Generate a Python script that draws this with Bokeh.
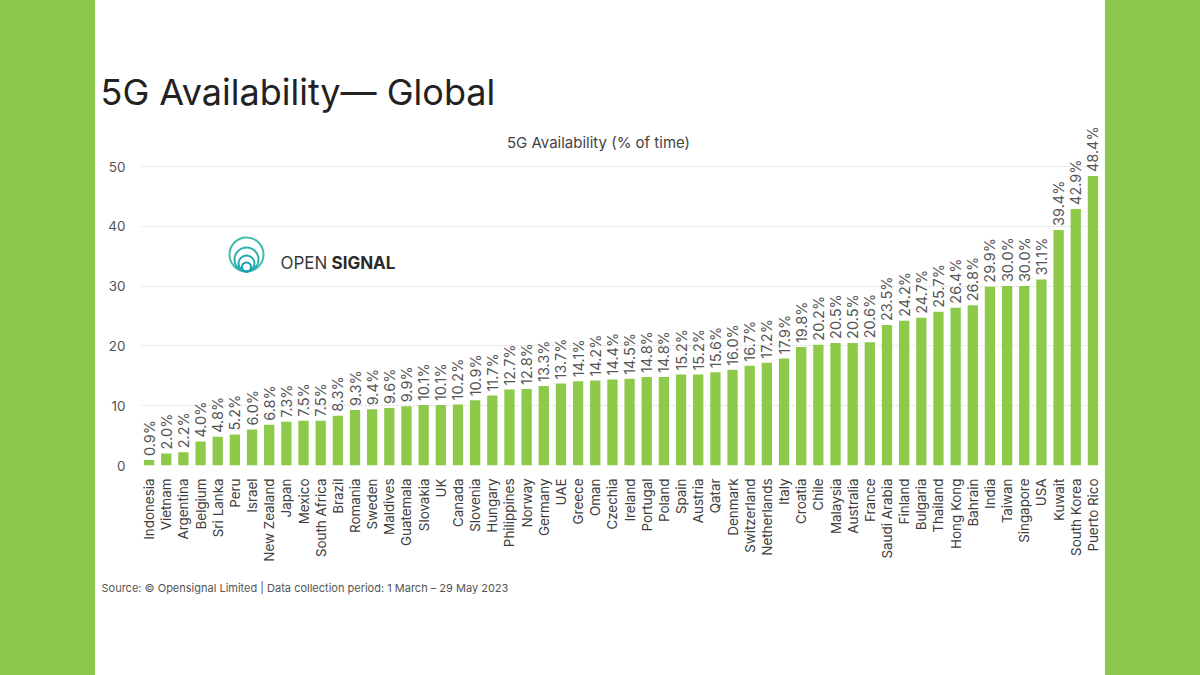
import math

from bokeh.core.properties import value
from bokeh.embed import file_html
from bokeh.layouts import row
from bokeh.models import ColumnDataSource, FixedTicker, Label, Range1d, Spacer, Title
from bokeh.plotting import figure
from bokeh.resources import INLINE

# --- data -------------------------------------------------------------------
countries = [
    "Indonesia", "Vietnam", "Argentina", "Belgium", "Sri Lanka", "Peru", "Israel",
    "New Zealand", "Japan", "Mexico", "South Africa", "Brazil", "Romania", "Sweden",
    "Maldives", "Guatemala", "Slovakia", "UK", "Canada", "Slovenia", "Hungary",
    "Philippines", "Norway", "Germany", "UAE", "Greece", "Oman", "Czechia", "Ireland",
    "Portugal", "Poland", "Spain", "Austria", "Qatar", "Denmark", "Switzerland",
    "Netherlands", "Italy", "Croatia", "Chile", "Malaysia", "Australia", "France",
    "Saudi Arabia", "Finland", "Bulgaria", "Thailand", "Hong Kong", "Bahrain", "India",
    "Taiwan", "Singapore", "USA", "Kuwait", "South Korea", "Puerto Rico",
]
availability = [
    0.9, 2.0, 2.2, 4.0, 4.8, 5.2, 6.0, 6.8, 7.3, 7.5,
    7.5, 8.3, 9.3, 9.4, 9.6, 9.9, 10.1, 10.1, 10.2, 10.9,
    11.7, 12.7, 12.8, 13.3, 13.7, 14.1, 14.2, 14.4, 14.5, 14.8,
    14.8, 15.2, 15.2, 15.6, 16.0, 16.7, 17.2, 17.9, 19.8, 20.2,
    20.5, 20.5, 20.6, 23.5, 24.2, 24.7, 25.7, 26.4, 26.8, 29.9,
    30.0, 30.0, 31.1, 39.4, 42.9, 48.4,
]
y_ticks = [0, 10, 20, 30, 40, 50]

# --- style --------------------------------------------------------------------
FONT = "Inter"
GREEN_SIDE = "#8cc84b"
BAR_GREEN = "#8dca4a"
TEXT_DARK = "#222222"
TEXT_MID = "#555555"

FIG_W, FIG_H = 1010, 675
FRAME_LEFT, FRAME_RIGHT = 45, 1006
FRAME_TOP = 125             # top of the plotting frame
FRAME_BOTTOM = 465          # pixel row of y = 0
PX_PER_UNIT_Y = 5.98
Y_END = (FRAME_BOTTOM - FRAME_TOP) / PX_PER_UNIT_Y

n = len(countries)
px_per_x = (FRAME_RIGHT - FRAME_LEFT) / n


def dx(px):
    """figure pixel column -> data x"""
    return (px - FRAME_LEFT) / px_per_x - 0.5


def dy(py):
    """figure pixel row (from top) -> data y"""
    return (FRAME_BOTTOM - py) / PX_PER_UNIT_Y


source = ColumnDataSource(dict(
    x=list(range(n)),
    v=availability,
    label=[f"{v:.1f}%" for v in availability],
))

p = figure(
    width=FIG_W, height=FIG_H,
    x_range=Range1d(-0.5, n - 0.5), y_range=Range1d(0, Y_END),
    output_backend="svg", toolbar_location=None,
    min_border_left=FRAME_LEFT, min_border_right=FIG_W - FRAME_RIGHT,
    min_border_top=FRAME_TOP, min_border_bottom=FIG_H - FRAME_BOTTOM,
)
p.outline_line_color = None
p.background_fill_color = "white"
p.border_fill_color = "white"

# main title, above the frame
p.title.text = "5G Availability\u2014 Global"
p.title.align = "left"
p.title.offset = -40
p.title.text_font = FONT
p.title.text_font_size = "36px"
p.title.text_font_style = "normal"
p.title.text_color = TEXT_DARK
p.title.standoff = 24

p.vbar(x="x", top="v", width=0.6, source=source, fill_color=BAR_GREEN, line_color=None)

p.text(
    x="x", y="v", text="label", source=source, angle=math.pi / 2,
    text_align="left", text_baseline="middle", y_offset=-4,
    text_font=value(FONT), text_font_size="14.5px", text_color=TEXT_MID,
)

# axes
p.xaxis.ticker = FixedTicker(ticks=list(range(n)))
p.xaxis.major_label_overrides = {i: c for i, c in enumerate(countries)}
p.xaxis.major_label_orientation = math.pi / 2
p.xaxis.major_label_text_font = FONT
p.xaxis.major_label_text_font_size = "13.4px"
p.xaxis.major_label_text_color = "#3d3d3d"
p.xaxis.major_label_standoff = 7
p.xaxis.axis_line_color = None
p.xaxis.major_tick_line_color = None
p.xaxis.minor_tick_line_color = None

p.yaxis.ticker = FixedTicker(ticks=y_ticks)
p.yaxis.major_label_text_font = FONT
p.yaxis.major_label_text_font_size = "13.5px"
p.yaxis.major_label_text_color = "#555555"
p.yaxis.major_label_standoff = 9
p.yaxis.axis_line_color = None
p.yaxis.major_tick_line_color = None
p.yaxis.minor_tick_line_color = None

p.xgrid.visible = False
p.ygrid.ticker = FixedTicker(ticks=y_ticks)
p.ygrid.grid_line_color = "#d9d9d9"
p.ygrid.grid_line_dash = "2 2"

# footer below the category labels
p.add_layout(Title(
    text="Source:  \u00a9 Opensignal Limited  |  Data collection period: 1 March \u2013 29 May 2023",
    align="left", offset=-39, standoff=28,
    text_font=FONT, text_font_size="11px", text_font_style="normal", text_color="#555555",
), "below")

# chart subtitle inside the frame
p.add_layout(Label(
    x=dx(503), y=dy(142), text="5G Availability (% of time)",
    text_font=FONT, text_font_size="15px", text_color="#444444",
    text_baseline="alphabetic", text_align="center",
))

# brand mark: nested rings touching at the bottom
ring_cx, ring_bottom = 151, 271
ring_radii = [17, 12, 8, 4.5]
ring_colors = ["#3dbdaa", "#2cb2ad", "#22a7b1", "#1b9db4"]
for r, col in zip(ring_radii, ring_colors):
    p.scatter(
        x=[dx(ring_cx)], y=[dy(ring_bottom - r)], size=2 * r, marker="circle",
        fill_color=None, line_color=col, line_width=2,
    )
p.add_layout(Label(
    x=dx(185), y=dy(262), text="OPEN",
    text_font=FONT, text_font_size="17px", text_color="#3a3a3a",
    text_font_style="normal", text_baseline="alphabetic",
))
p.add_layout(Label(
    x=dx(236), y=dy(262), text="SIGNAL",
    text_font=FONT, text_font_size="17px", text_color="#2a2a2a",
    text_font_style="bold", text_baseline="alphabetic",
))

left = Spacer(width=95, height=FIG_H, styles={"background-color": GREEN_SIDE})
right = Spacer(width=95, height=FIG_H, styles={"background-color": GREEN_SIDE})
page = row(left, p, right, spacing=0)

open("out.html", "w").write(file_html(page, INLINE))
